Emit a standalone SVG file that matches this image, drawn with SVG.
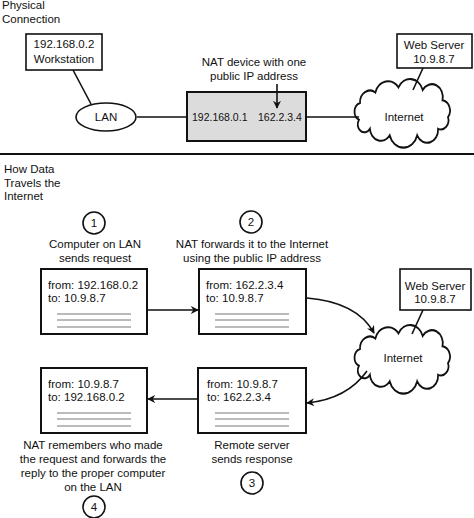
<svg xmlns="http://www.w3.org/2000/svg" width="474" height="518" viewBox="0 0 474 518">
<style>
text{font-family:"Liberation Sans",Arial,sans-serif;font-size:11.5px;fill:#111}
.c{text-anchor:middle}
.sm{font-size:10.5px}
.box{fill:#fff;stroke:#111;stroke-width:2}
.nbox{fill:#fff;stroke:#111;stroke-width:1.6}
.ln{stroke:#111;stroke-width:1.6;fill:none}
.gl{stroke:#777;stroke-width:1}
.cloud{fill:#fff;stroke:#111;stroke-width:1.6}
.circ{fill:#fff;stroke:#111;stroke-width:1.6}
</style>
<defs>
<marker id="ah" viewBox="0 0 10 10" refX="9" refY="5" markerWidth="8" markerHeight="8" markerUnits="userSpaceOnUse" orient="auto">
<path d="M0,0 L10,5 L0,10 L3,5 Z" fill="#111"/>
</marker>
<path id="cloudShape" class="cloud" d="M-41,6 A7,7 0 0 1 -40,-7 A9,9 0 0 1 -26,-15 A12,12 0 0 1 -5,-19 A12,12 0 0 1 17,-17 A10,10 0 0 1 35,-9 A8,8 0 0 1 40,4 A7,7 0 0 1 31,13 A10,10 0 0 1 12,18 A13,13 0 0 1 -13,18 A10,10 0 0 1 -31,13 A6,6 0 0 1 -41,6 Z"/>
</defs>
<rect width="474" height="518" fill="#fff"/>

<g id="section1-title">
<text x="2" y="9">Physical</text>
<text x="2" y="23">Connection</text>
</g>

<g id="workstation">
<rect class="nbox" x="26" y="34" width="76" height="36"/>
<text class="c" x="64" y="48">192.168.0.2</text>
<text class="c" x="64" y="63">Workstation</text>
</g>

<g id="lan">
<ellipse class="nbox" cx="106" cy="117" rx="30" ry="14"/>
<text class="c" x="106" y="121">LAN</text>
</g>

<g id="nat-label">
<text class="c" x="254" y="66">NAT device with one</text>
<text class="c" x="254" y="80">public IP address</text>
</g>

<g id="nat-device">
<rect x="187" y="92" width="119" height="49" fill="#dcdcdc" stroke="#111" stroke-width="2"/>
<text class="sm" x="192" y="121">192.168.0.1</text>
<text class="sm" x="258" y="121">162.2.3.4</text>
</g>

<g id="internet1">
<use href="#cloudShape" transform="translate(404,112) scale(1.1,1.3)"/>
<text class="c" x="404" y="121">Internet</text>
</g>

<g id="webserver1">
<rect class="nbox" x="397" y="34" width="75" height="34"/>
<text class="c" x="434" y="49">Web Server</text>
<text class="c" x="434" y="63">10.9.8.7</text>
</g>

<line x1="0" y1="154" x2="474" y2="154" stroke="#111" stroke-width="2"/>

<g id="section2-title">
<text x="4" y="173">How Data</text>
<text x="4" y="187">Travels the</text>
<text x="4" y="200">Internet</text>
</g>

<g id="step1">
<circle class="circ" cx="94" cy="223" r="11"/>
<text class="c" x="94" y="227">1</text>
<text class="c" x="95" y="248">Computer on LAN</text>
<text class="c" x="95" y="262">sends request</text>
</g>

<g id="packet1">
<rect class="box" x="41" y="269" width="106" height="65"/>
<text x="48" y="289">from: 192.168.0.2</text>
<text x="48" y="302">to: 10.9.8.7</text>
<line class="gl" x1="57" y1="314" x2="131" y2="314"/>
<line class="gl" x1="57" y1="320" x2="131" y2="320"/>
<line class="gl" x1="57" y1="327" x2="131" y2="327"/>
</g>

<g id="step2">
<circle class="circ" cx="251" cy="222" r="11"/>
<text class="c" x="251" y="226">2</text>
<text class="c" x="252" y="248">NAT forwards it to the Internet</text>
<text class="c" x="252" y="262">using the public IP address</text>
</g>

<g id="packet2">
<rect class="box" x="199" y="269" width="107" height="65"/>
<text x="206" y="289">from: 162.2.3.4</text>
<text x="206" y="302">to: 10.9.8.7</text>
<line class="gl" x1="215" y1="314" x2="289" y2="314"/>
<line class="gl" x1="215" y1="320" x2="289" y2="320"/>
<line class="gl" x1="215" y1="327" x2="289" y2="327"/>
</g>

<g id="webserver2">
<rect class="nbox" x="400" y="269" width="71" height="41"/>
<text class="c" x="435" y="290">Web Server</text>
<text class="c" x="435" y="303">10.9.8.7</text>
</g>

<g id="internet2">
<use href="#cloudShape" transform="translate(404,358) scale(1.1,1.3)"/>
<text class="c" x="403" y="362">Internet</text>
</g>

<g id="packet3">
<rect class="box" x="198" y="368" width="108" height="65"/>
<text x="207" y="388">from: 10.9.8.7</text>
<text x="207" y="401">to: 162.2.3.4</text>
<line class="gl" x1="215" y1="413" x2="289" y2="413"/>
<line class="gl" x1="215" y1="419" x2="289" y2="419"/>
<line class="gl" x1="215" y1="426" x2="289" y2="426"/>
</g>

<g id="step3">
<text class="c" x="252" y="449">Remote server</text>
<text class="c" x="252" y="463">sends response</text>
<circle class="circ" cx="252" cy="483" r="11"/>
<text class="c" x="252" y="487">3</text>
</g>

<g id="packet4">
<rect class="box" x="41" y="368" width="106" height="65"/>
<text x="48" y="388">from: 10.9.8.7</text>
<text x="48" y="401">to: 192.168.0.2</text>
<line class="gl" x1="57" y1="413" x2="131" y2="413"/>
<line class="gl" x1="57" y1="419" x2="131" y2="419"/>
<line class="gl" x1="57" y1="426" x2="131" y2="426"/>
</g>

<g id="step4">
<text class="c" x="93" y="449">NAT remembers who made</text>
<text class="c" x="93" y="463">the request and forwards the</text>
<text class="c" x="93" y="477">reply to the proper computer</text>
<text class="c" x="93" y="491">on the LAN</text>
<circle class="circ" cx="94" cy="507" r="11"/>
<text class="c" x="94" y="511">4</text>
</g>

<g id="connectors">
<line class="ln" x1="73" y1="70" x2="91" y2="104"/>
<line class="ln" x1="137" y1="117" x2="187" y2="117"/>
<line class="ln" x1="306" y1="117" x2="359" y2="117"/>
<line class="ln" x1="423" y1="68" x2="413" y2="90"/>
<line class="ln" x1="277" y1="84" x2="277" y2="108" marker-end="url(#ah)"/>
<line class="ln" x1="147" y1="310" x2="198" y2="310" marker-end="url(#ah)"/>
<path class="ln" d="M307,298 Q357,302 374,333" marker-end="url(#ah)"/>
<line class="ln" x1="423" y1="310" x2="412" y2="334"/>
<path class="ln" d="M367,371 Q347,399 307,403" marker-end="url(#ah)"/>
<line class="ln" x1="198" y1="399" x2="148" y2="399" marker-end="url(#ah)"/>
</g>
</svg>
